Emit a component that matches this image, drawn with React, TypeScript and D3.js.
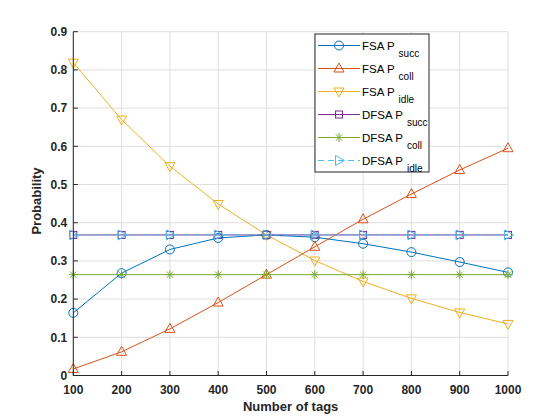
import React from 'react'
import * as d3 from 'd3'

// number of tags on the x axis
const tags = [100, 200, 300, 400, 500, 600, 700, 800, 900, 1000]

// values
const fsaSucc = [0.164, 0.268, 0.33, 0.36, 0.368, 0.362, 0.345, 0.323, 0.297, 0.27]
const fsaColl = [0.017, 0.062, 0.122, 0.191, 0.264, 0.337, 0.409, 0.475, 0.538, 0.595]
const fsaIdle = [0.819, 0.67, 0.548, 0.449, 0.368, 0.301, 0.246, 0.202, 0.165, 0.135]
const dfsaSucc = [0.368, 0.368, 0.368, 0.368, 0.368, 0.368, 0.368, 0.368, 0.368, 0.368]
const dfsaColl = [0.264, 0.264, 0.264, 0.264, 0.264, 0.264, 0.264, 0.264, 0.264, 0.264]
const dfsaIdle = [0.368, 0.368, 0.368, 0.368, 0.368, 0.368, 0.368, 0.368, 0.368, 0.368]

const yTicks = [0, 0.1, 0.2, 0.3, 0.4, 0.5, 0.6, 0.7, 0.8, 0.9]

const series = [
  {name: 'FSA P', sub: 'succ', values: fsaSucc, color: '#0072BD', marker: 'o', dash: ''},
  {name: 'FSA P', sub: 'coll', values: fsaColl, color: '#D95319', marker: '^', dash: ''},
  {name: 'FSA P', sub: 'idle', values: fsaIdle, color: '#EDB120', marker: 'v', dash: ''},
  {name: 'DFSA P', sub: 'succ', values: dfsaSucc, color: '#7E2F8E', marker: 's', dash: ''},
  {name: 'DFSA P', sub: 'coll', values: dfsaColl, color: '#77AC30', marker: '*', dash: ''},
  {name: 'DFSA P', sub: 'idle', values: dfsaIdle, color: '#4DBEEE', marker: '>', dash: '6,4'},
]

const W = 560
const H = 420
const left = 73.3
const right = 508
const top = 31.7
const bottom = 375.5

const font = "'Liberation Sans', Arial, sans-serif"
const axisColor = '#262626'

function Marker({type, x, y, color}: {type: string; x: number; y: number; color: string}) {
  const common = {fill: 'none', stroke: color, strokeWidth: 1}
  if (type === 'o') return <circle cx={x} cy={y} r={4.5} {...common} />
  if (type === '^')
    return <polygon points={`${x},${y - 5.5} ${x + 5},${y + 3.5} ${x - 5},${y + 3.5}`} {...common} />
  if (type === 'v')
    return <polygon points={`${x},${y + 5.5} ${x + 5},${y - 3.5} ${x - 5},${y - 3.5}`} {...common} />
  if (type === '>')
    return <polygon points={`${x + 5.5},${y} ${x - 3.5},${y - 5} ${x - 3.5},${y + 5}`} {...common} />
  if (type === 's') return <rect x={x - 3.5} y={y - 3.5} width={7} height={7} {...common} />
  // asterisk
  const r = 4.5
  const d = r * 0.7
  return (
    <path
      d={`M${x - r},${y}H${x + r}M${x},${y - r}V${y + r}M${x - d},${y - d}L${x + d},${y + d}M${x - d},${y + d}L${x + d},${y - d}`}
      {...common}
    />
  )
}

export default function App() {
  const x = d3.scaleLinear().domain([100, 1000]).range([left, right])
  const y = d3.scaleLinear().domain([0, 0.9]).range([bottom, top])
  const line = d3
    .line<number>()
    .x((_, i) => x(tags[i]))
    .y(v => y(v))

  const legX = 315
  const legY = 34
  const legW = 114
  const rowH = 23

  return (
    <div style={{position: 'absolute', left: 0, top: 0}}>
      <svg width={W} height={H} style={{display: 'block', background: '#fff'}}>
        {/* grid */}
        <g stroke="#dfdfdf" strokeWidth={1}>
          {tags.map(t => (
            <line key={'gx' + t} x1={x(t)} x2={x(t)} y1={top} y2={bottom} />
          ))}
          {yTicks.map(t => (
            <line key={'gy' + t} x1={left} x2={right} y1={y(t)} y2={y(t)} />
          ))}
        </g>

        {/* series */}
        {series.map((s, si) => (
          <g key={si}>
            <path
              d={line(s.values) || ''}
              fill="none"
              stroke={s.color}
              strokeWidth={1}
              strokeDasharray={s.dash || undefined}
            />
            {s.values.map((v, i) => (
              <Marker key={i} type={s.marker} x={x(tags[i])} y={y(v)} color={s.color} />
            ))}
          </g>
        ))}

        {/* axes */}
        <g stroke={axisColor} strokeWidth={1}>
          <line x1={left} x2={left} y1={top} y2={bottom} />
          <line x1={left} x2={right} y1={bottom} y2={bottom} />
          {tags.map(t => (
            <line key={'tx' + t} x1={x(t)} x2={x(t)} y1={bottom} y2={bottom - 4.5} />
          ))}
          {yTicks.map(t => (
            <line key={'ty' + t} x1={left} x2={left + 4.5} y1={y(t)} y2={y(t)} />
          ))}
        </g>
        <g fontFamily={font} fontWeight="bold" fontSize={12} fill={axisColor}>
          {tags.map(t => (
            <text key={'lx' + t} x={x(t)} y={bottom + 18} textAnchor="middle">
              {t}
            </text>
          ))}
          {yTicks.map(t => (
            <text key={'ly' + t} x={left - 6} y={y(t)} dy="0.36em" textAnchor="end">
              {t === 0 ? '0' : d3.format('.1f')(t)}
            </text>
          ))}
        </g>
        <text
          x={(left + right) / 2}
          y={411}
          textAnchor="middle"
          fontFamily={font}
          fontWeight="bold"
          fontSize={13}
          fill={axisColor}>
          Number of tags
        </text>
        <text
          transform={`translate(40.5,201) rotate(-90)`}
          textAnchor="middle"
          fontFamily={font}
          fontWeight="bold"
          fontSize={13}
          fill={axisColor}>
          Probability
        </text>

        {/* legend */}
        <rect x={legX} y={legY} width={legW} height={rowH * 6} fill="#fff" stroke={axisColor} strokeWidth={1} />
        {series.map((s, i) => {
          const cy = legY + (i + 0.5) * rowH
          return (
            <g key={'leg' + i}>
              <line
                x1={legX + 3}
                x2={legX + 45}
                y1={cy}
                y2={cy}
                stroke={s.color}
                strokeWidth={1}
                strokeDasharray={s.dash || undefined}
              />
              <Marker type={s.marker} x={legX + 24} y={cy} color={s.color} />
              <text x={legX + 47} y={cy + 4} fontFamily={font} fontSize={11.5} fill="#000">
                {s.name}
                <tspan dx={4} dy={7} fontSize={10}>
                  {s.sub}
                </tspan>
              </text>
            </g>
          )
        })}
      </svg>
    </div>
  )
}
